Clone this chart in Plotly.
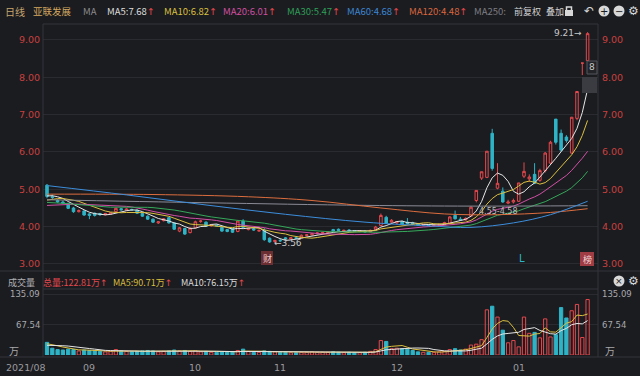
import plotly.graph_objects as go
import pandas as pd

W, H = 640, 376
BG = "#1b1c20"
RED = "#e5484d"
CYAN = "#2fb4c6"
GRID = "#2a2b30"
EDGE = "#34353b"
AXRED = "#c9403f"

# ---------------- data ----------------
# closes before the visible window, needed for the short moving averages
prior_close = [4.95, 4.90, 4.88, 4.85, 4.80, 4.82, 4.78, 4.75, 4.70, 4.68,
               4.60, 4.52, 4.45, 4.40, 4.38, 4.35, 4.40, 4.42, 4.38, 4.36,
               4.50, 4.55, 4.60, 4.65, 4.70, 4.75, 4.80, 4.85, 4.90]
prior_volume = [14, 16, 18, 20, 22, 24, 26, 25, 22]

opens = [5.11, 4.80, 4.70, 4.66, 4.62, 4.50, 4.40, 4.42,
         4.34, 4.36, 4.35, 4.32, 4.34, 4.40, 4.48, 4.44, 4.46, 4.44, 4.35, 4.28, 4.20, 4.10, 4.16, 4.24, 4.10, 3.88, 3.95, 3.84,
         3.97, 4.14, 4.12, 4.02, 4.04, 3.98, 3.92, 3.95, 3.87, 4.15, 3.92, 3.94, 3.88, 3.90, 3.69, 3.60,
         3.63, 3.70, 3.67, 3.70, 3.70, 3.76, 3.78, 3.81, 3.82, 3.84, 3.92, 3.93, 3.88, 3.91, 3.89, 3.87, 3.88, 3.86, 3.92, 4.03, 4.25, 4.12,
         4.10, 4.13, 4.12, 4.10, 4.08, 4.04, 4.05, 4.03, 4.04, 4.06, 4.09, 4.30, 4.20, 4.18, 4.28, 4.70, 5.30, 5.32, 6.50, 5.03, 4.95, 4.63, 4.66,
         4.68, 5.35, 5.28, 5.40, 5.24, 5.50, 5.70, 6.88, 6.50, 6.40, 5.97, 6.90, 8.38, 8.45]
highs = [5.14, 4.86, 4.73, 4.70, 4.64, 4.53, 4.46, 4.44,
         4.37, 4.38, 4.37, 4.37, 4.39, 4.51, 4.50, 4.49, 4.48, 4.46, 4.37, 4.30, 4.22, 4.15, 4.23, 4.26, 4.12, 3.99, 3.97, 3.98,
         4.16, 4.18, 4.14, 4.06, 4.06, 4.00, 3.94, 3.97, 4.18, 4.20, 3.97, 3.96, 3.92, 3.96, 3.71, 3.65,
         3.68, 3.72, 3.72, 3.73, 3.79, 3.80, 3.83, 3.85, 3.86, 3.88, 3.94, 3.95, 3.92, 3.93, 3.91, 3.90, 3.90, 3.92, 4.02, 4.35, 4.29, 4.20,
         4.15, 4.16, 4.23, 4.13, 4.10, 4.07, 4.07, 4.06, 4.08, 4.13, 4.28, 4.43, 4.26, 4.25, 4.55, 4.97, 5.47, 6.02, 6.62, 5.70, 5.05, 4.72, 4.75,
         5.17, 5.72, 5.40, 5.70, 5.55, 6.00, 6.30, 6.88, 6.60, 6.45, 6.94, 7.62, 8.38, 9.21]
lows = [4.76, 4.74, 4.64, 4.61, 4.47, 4.37, 4.38, 4.29,
        4.20, 4.27, 4.29, 4.30, 4.32, 4.38, 4.43, 4.42, 4.42, 4.34, 4.26, 4.18, 4.10, 4.07, 4.14, 4.08, 3.91, 3.85, 3.78, 3.82,
        3.95, 4.10, 3.99, 4.00, 4.00, 3.86, 3.85, 3.83, 3.85, 3.96, 3.90, 3.89, 3.86, 3.62, 3.57, 3.56,
        3.59, 3.64, 3.65, 3.67, 3.69, 3.74, 3.76, 3.79, 3.80, 3.82, 3.86, 3.88, 3.86, 3.87, 3.86, 3.85, 3.84, 3.85, 3.91, 4.01, 4.07, 4.10,
        4.07, 4.04, 4.06, 4.06, 4.02, 4.01, 4.01, 4.00, 4.02, 4.05, 4.07, 4.19, 4.15, 4.16, 4.26, 4.65, 5.25, 5.30, 5.50, 5.00, 4.64, 4.60, 4.62,
        4.66, 5.30, 5.20, 5.14, 5.20, 5.45, 5.65, 6.20, 6.00, 6.25, 5.95, 6.85, 8.06, 8.30]
closes = [4.81, 4.78, 4.66, 4.63, 4.49, 4.40, 4.43, 4.31,
          4.30, 4.30, 4.32, 4.35, 4.37, 4.49, 4.45, 4.47, 4.45, 4.36, 4.28, 4.20, 4.12, 4.13, 4.21, 4.10, 3.93, 3.97, 3.80, 3.96,
          4.13, 4.15, 4.01, 4.04, 4.02, 3.88, 3.87, 3.85, 4.15, 3.98, 3.95, 3.91, 3.90, 3.65, 3.59, 3.63,
          3.62, 3.67, 3.70, 3.69, 3.77, 3.78, 3.81, 3.83, 3.84, 3.86, 3.88, 3.90, 3.90, 3.89, 3.88, 3.89, 3.86, 3.90, 3.99, 4.30, 4.09, 4.17,
          4.13, 4.06, 4.08, 4.08, 4.04, 4.05, 4.03, 4.04, 4.06, 4.11, 4.26, 4.21, 4.18, 4.22, 4.52, 4.97, 5.47, 6.02, 5.56, 5.16, 4.66, 4.66, 4.70,
          5.17, 5.48, 5.33, 5.16, 5.50, 5.97, 6.26, 6.26, 6.05, 6.31, 6.93, 7.62, 8.38, 9.17]
volumes = [28, 15, 12, 11, 13, 12, 9, 11,
           10, 9, 8, 7, 8, 12, 9, 8, 7, 8, 9, 10, 9, 7, 8, 9, 11, 9, 10, 8,
           9, 7, 8, 6, 6, 7, 6, 7, 10, 13, 8, 6, 6, 9, 8, 7,
           6, 6, 5, 5, 6, 6, 7, 6, 6, 6, 7, 6, 5, 6, 5, 5, 6, 8, 12, 32, 30, 14,
           15, 14, 13, 10, 7, 6, 6, 6, 7, 8, 12, 14, 11, 13, 22, 24, 34, 100, 108, 84, 55, 27, 32,
           18, 84, 48, 50, 38, 80, 40, 45, 105, 82, 98, 112, 38.7, 122.81]

ma60_idx = [0, 15, 30, 45, 60, 72, 80, 88, 95, 102]
ma60_val = [5.10, 4.85, 4.58, 4.33, 4.12, 4.02, 3.98, 4.10, 4.32, 4.68]
ma120_idx = [0, 20, 38, 50, 63, 75, 85, 95, 102]
ma120_val = [4.87, 4.86, 4.80, 4.70, 4.50, 4.34, 4.32, 4.38, 4.48]
ma250_idx = [0, 30, 60, 80, 102]
ma250_val = [4.72, 4.64, 4.57, 4.55, 4.56]

price_ticks = [3, 4, 5, 6, 7, 8, 9]
vol_ticks = [67.54, 135.09]
month_pos = [8, 28, 44, 66, 89]
month_text = ["09", "10", "11", "12", "01"]

# ---------------- geometry helpers ----------------
X0, X1 = 43, 598            # plot left/right px
P_TOP, P_BOT = 24, 270      # price pane px
V_TOP, V_BOT = 289, 355     # volume pane px
Y5, SPP = 189.3, 37.33      # px of price 5.00, px per 1.00
VPX = 61 / 135.09           # px per 1 volume unit (0 at V_BOT)
CW = 5.3                    # px per candle
XFIRST = 47


def price_at(py):
    return 5 + (Y5 - py) / SPP


def py_of(p):
    return Y5 - (p - 5) * SPP


def ix(px):
    return (px - XFIRST) / CW


def fx(px):
    return px / W


def fy(py):
    return 1 - py / H


n = len(closes)
idx = list(range(n))
cs = pd.Series(prior_close + closes)
vs = pd.Series(prior_volume + volumes)


def ma(s, w):
    return s.rolling(w).mean().iloc[-n:].round(3).tolist()


up = []
for i in range(n):
    if closes[i] != opens[i]:
        up.append(closes[i] > opens[i])
    else:
        prev = closes[i - 1] if i else prior_close[-1]
        up.append(closes[i] >= prev)

fig = go.Figure()

# candles
fig.add_trace(go.Candlestick(
    x=idx, open=opens, high=highs, low=lows, close=closes,
    increasing=dict(line=dict(color=RED, width=1), fillcolor="rgba(0,0,0,0)"),
    decreasing=dict(line=dict(color=CYAN, width=1), fillcolor=CYAN),
    whiskerwidth=0, hoverinfo="skip", xaxis="x", yaxis="y"))

# moving averages
for w, col in [(5, "#e6e6e6"), (10, "#dcc040"), (20, "#d24fa6"), (30, "#35a85a")]:
    fig.add_trace(go.Scatter(x=idx, y=ma(cs, w), mode="lines",
                             line=dict(color=col, width=1), hoverinfo="skip",
                             xaxis="x", yaxis="y"))
for xs, ys, col in [(ma250_idx, ma250_val, "#8a8b96"),
                    (ma120_idx, ma120_val, "#dc6d3e"),
                    (ma60_idx, ma60_val, "#3c8ddb")]:
    fig.add_trace(go.Scatter(x=xs, y=ys, mode="lines",
                             line=dict(color=col, width=1, shape="spline", smoothing=1.0),
                             hoverinfo="skip", xaxis="x", yaxis="y"))

# volume
fig.add_trace(go.Bar(
    x=idx, y=volumes, width=0.62,
    marker=dict(color=["rgba(0,0,0,0)" if u else CYAN for u in up],
                line=dict(color=[RED if u else CYAN for u in up], width=1)),
    hoverinfo="skip", xaxis="x2", yaxis="y2"))
fig.add_trace(go.Scatter(x=idx, y=ma(vs, 5), mode="lines",
                         line=dict(color="#dcc040", width=1), hoverinfo="skip",
                         xaxis="x2", yaxis="y2"))
fig.add_trace(go.Scatter(x=idx, y=ma(vs, 10), mode="lines",
                         line=dict(color="#e6e6e6", width=1), hoverinfo="skip",
                         xaxis="x2", yaxis="y2"))

xr = [ix(X0), ix(X1)]
fig.update_layout(
    width=W, height=H, margin=dict(l=0, r=0, t=0, b=0),
    paper_bgcolor=BG, plot_bgcolor=BG, showlegend=False,
    boxgap=0.32, bargap=0.3,
    xaxis=dict(domain=[fx(X0), fx(X1)], range=xr, visible=False,
               rangeslider=dict(visible=False), anchor="y"),
    yaxis=dict(domain=[fy(P_BOT), fy(P_TOP)], range=[price_at(P_BOT), price_at(P_TOP)],
               tickvals=price_ticks, showticklabels=False, gridcolor=GRID,
               gridwidth=1, zeroline=False, showline=False, anchor="x"),
    xaxis2=dict(domain=[fx(X0), fx(X1)], range=xr, visible=False, anchor="y2"),
    yaxis2=dict(domain=[fy(V_BOT), fy(V_TOP)], range=[0, (V_BOT - V_TOP) / VPX],
                tickvals=vol_ticks, showticklabels=False, gridcolor=GRID,
                zeroline=False, showline=False, anchor="x2"),
)

ann = []


def text(t, px, py, color, size, xa="left", font="DejaVu Sans"):
    ann.append(dict(text=t, x=fx(px), y=fy(py), xref="paper", yref="paper",
                    xanchor=xa, yanchor="middle", showarrow=False, borderpad=0,
                    font=dict(color=color, size=size, family=font)))


# price axis labels (both sides)
for p in price_ticks:
    text(f"{p:.2f}", X0 - 2, py_of(p), AXRED, 9.5, "right")
    text(f"{p:.2f}", X1 + 3, py_of(p), AXRED, 9.5, "left")
# volume axis labels
for v in vol_ticks:
    yy = V_BOT - v * VPX
    text(f"{v:.2f}", X0 - 2, yy, "#a9a9ad", 8.5, "right")
    text(f"{v:.2f}", X1 + 3, yy, "#a9a9ad", 8.5, "left")
text("万", 8, 350, "#a9a9ad", 10, "left", "Noto Sans CJK SC")
text("万", 604, 350, "#a9a9ad", 10, "left", "Noto Sans CJK SC")

# date axis
text("2021/08", 5, 367, "#9a9a9e", 9.5, "left")
for pos, t in zip(month_pos, month_text):
    text(t, XFIRST + pos * CW, 367, "#9a9a9e", 9.5, "center")

CJK = "Noto Sans CJK SC"
ARW = '<span style="color:#e5484d;font-family:DejaVu Sans">↑</span>'


def head(px, py, label, color, size=9.5, arrow=True):
    text(label + (ARW if arrow else ""), px, py, color, size, "left", CJK)


# top header
text("日线", 4, 11, "#c9a66e", 10, "left", CJK)
text("亚联发展", 32, 11, "#d3a75f", 9.5, "left", CJK)
text("MA", 82, 11, "#8a8a8e", 9.5, "left", CJK)
head(106, 11, "MA5:7.68", "#dcdcdc")
head(163, 11, "MA10:6.82", "#d9bf3f")
head(222, 11, "MA20:6.01", "#cf4fa0")
head(286, 11, "MA30:5.47", "#2f9e58")
head(346, 11, "MA60:4.68", "#3b86d3")
head(408, 11, "MA120:4.48", "#d8663e")
head(473, 11, "MA250:", "#7d7d82", arrow=False)
text("前复权", 513, 11, "#d2d2d2", 9, "left", CJK)
text("叠加", 545, 11, "#d2d2d2", 9, "left", CJK)
text("↶", 589, 11, "#d8d8d8", 12, "center")
text("⚙", 633, 11, "#d8d8d8", 12, "center")

# volume header
text("成交量", 7, 282, "#b0b0b4", 9, "left", CJK)
head(42, 282, "总量:122.81万", "#e5484d", 9)
head(112, 282, "MA5:90.71万", "#d9bf3f", 9)
head(180, 282, "MA10:76.15万", "#dcdcdc", 9)
text("⚙", 633, 281, "#d8d8d8", 12, "center")

# chart markers
text("9.21→", 583, 33, "#c8c8c8", 9, "right")
text("←3.56", 273, 243, "#c8c8c8", 9, "left")
text("4.55-4.58", 478, 211, "#bdbdbd", 8, "left")
text("L", 522, 258, CYAN, 10, "center")
text("8", 592, 67, "#c8c8c8", 9, "center")

shapes = []


def hline(py, x0, x1, color=EDGE):
    shapes.append(dict(type="line", xref="paper", yref="paper", x0=fx(x0), x1=fx(x1),
                       y0=fy(py), y1=fy(py), line=dict(color=color, width=1)))


def vline(px, y0, y1, color=EDGE):
    shapes.append(dict(type="line", xref="paper", yref="paper", x0=fx(px), x1=fx(px),
                       y0=fy(y0), y1=fy(y1), line=dict(color=color, width=1)))


def rect(x0, y0, x1, y1, fill, line=None):
    shapes.append(dict(type="rect", xref="paper", yref="paper", x0=fx(x0), x1=fx(x1),
                       y0=fy(y1), y1=fy(y0), fillcolor=fill,
                       line=dict(color=line or fill, width=1 if line else 0)))


def circ(cx, cy, r, fill):
    shapes.append(dict(type="circle", xref="paper", yref="paper",
                       x0=fx(cx - r), x1=fx(cx + r), y0=fy(cy + r), y1=fy(cy - r),
                       fillcolor=fill, line=dict(width=0)))


hline(P_TOP, X0, X1)
hline(271, 0, W)
hline(V_TOP, X0, X1)
hline(357, 0, W)
vline(X0, P_TOP, 357)
vline(X1, P_TOP, 357)

# badges
rect(261, 251, 273, 265, "#6b2f33")
text("财", 267, 258, "#f0c8c8", 9, "center", CJK)
rect(580, 252, 594, 266, "#a03c43")
text("榜", 587, 259, "#f4d8d8", 9, "center", CJK)
rect(582, 77, 597, 93, "#3b3c41")
rect(587, 61, 597, 74, "#232428", "#55565c")

# header icons
rect(565, 10, 573, 16, "#d8d8d8")
shapes.append(dict(type="path", xref="paper", yref="paper",
                   path=f"M {fx(566.5)},{fy(10)} L {fx(566.5)},{fy(7)} L {fx(571.5)},{fy(7)} L {fx(571.5)},{fy(10)}",
                   line=dict(color="#d8d8d8", width=1.5)))
circ(604, 11, 5.5, "#d8d8d8")
circ(619, 11, 5.5, "#d8d8d8")
text("+", 604, 11, BG, 10, "center")
text("−", 619, 11, BG, 10, "center")
circ(619, 281, 5.5, "#d8d8d8")
text("×", 619, 281, BG, 9, "center")

fig.update_layout(annotations=ann, shapes=shapes)
fig.write_html("out.html")
